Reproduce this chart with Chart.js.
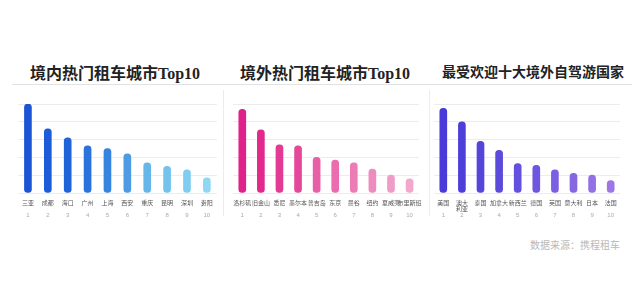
<!DOCTYPE html>
<html>
<head>
<meta charset="utf-8">
<script src="https://cdn.jsdelivr.net/npm/chart.js@4.4.0/dist/chart.umd.min.js"></script>
<style>
  body { margin: 0; background: #fff; width: 640px; height: 284px; position: relative; overflow: hidden; font-family: "Noto Sans CJK SC", sans-serif; }
  .titulo { position: absolute; top: 60px; font-size: 16px; font-weight: bold; color: #222; text-align: center; white-space: nowrap; font-family: "Liberation Serif", "Noto Sans CJK SC", serif; }
  .panel { position: absolute; top: 96px; height: 126px; }
  .linea-h { position: absolute; left: 12px; width: 620px; top: 84px; height: 1px; background: #e2e2e2; }
  .linea-v { position: absolute; top: 90px; height: 126px; width: 1px; background: #ececec; }
  .fuente { position: absolute; right: 20px; top: 237px; font-size: 10px; color: #b8b8b8; }
</style>
</head>
<body>
<div class="titulo" style="left:10px;width:210px">境内热门租车城市Top10</div>
<div class="titulo" style="left:220px;width:210px">境外热门租车城市Top10</div>
<div class="titulo" style="left:428px;width:210px;font-size:14px;top:61px">最受欢迎十大境外自驾游国家</div>
<div class="linea-h"></div>
<div class="linea-v" style="left:223px"></div>
<div class="linea-v" style="left:429px"></div>

<div class="panel" style="left:8px;width:212px"><canvas id="g1"></canvas></div>
<div class="panel" style="left:223px;width:206px"><canvas id="g2"></canvas></div>
<div class="panel" style="left:429px;width:200px"><canvas id="g3"></canvas></div>

<div class="fuente">数据来源：携程租车</div>

<script>
// Datos de cada gráfica
var ranking = ['1', '2', '3', '4', '5', '6', '7', '8', '9', '10'];

var ciudadesInternas = ['三亚', '成都', '海口', '广州', '上海', '西安', '重庆', '昆明', '深圳', '贵阳'];
var valoresInternos = [100, 72, 62, 53, 50, 44, 34, 30, 26, 17];

var ciudadesExternas = ['洛杉矶', '旧金山', '悉尼', '墨尔本', '普吉岛', '东京', '曼谷', '纽约', '夏威夷', '布里斯班'];
var valoresExternos = [94, 71, 54, 53, 40, 37, 34, 27, 20, 16];

var paises = [['美国'], ['澳大', '利亚'], ['泰国'], ['加拿大'], ['新西兰'], ['德国'], ['英国'], ['意大利'], ['日本'], ['法国']];
var valoresPaises = [95, 80, 58, 48, 33, 31, 26, 22, 20, 14];

// Colores (degradado por barra)
var coloresAzul = ['#1b55d5', '#1d5cd8', '#2062d8', '#2a72dc', '#3684df', '#4c9be3', '#66b6ea', '#74c3ed', '#80cdef', '#8fd7f2'];
var coloresRosa = ['#e0218a', '#e2288d', '#e33a95', '#e5479b', '#e85ea7', '#eb6daf', '#ed7bb6', '#ef8cbf', '#f19cc8', '#f2a8cd'];
var coloresMorado = ['#4a3bd8', '#4e3fda', '#5545da', '#5b4adc', '#6450de', '#6e56e0', '#7a5fe2', '#8667e2', '#9370e4', '#9e77e6'];

function crearGrafica(id, etiquetas, valores, colores, padIzq, padDer) {
    var ctx = document.getElementById(id).getContext('2d');
    return new Chart(ctx, {
        type: 'bar',
        data: {
            labels: etiquetas,
            datasets: [{
                data: valores,
                backgroundColor: colores,
                barThickness: 7,
                borderRadius: 4,
                borderSkipped: false,
                xAxisID: 'x'
            }]
        },
        options: {
            responsive: true,
            maintainAspectRatio: false,
            animation: false,
            layout: { padding: { left: padIzq, right: padDer, top: 8, bottom: 0 } },
            plugins: { legend: { display: false }, tooltip: { enabled: false } },
            scales: {
                x: {
                    position: 'bottom',
                    grid: { display: false, drawTicks: false },
                    border: { display: false },
                    ticks: { color: '#555', font: { size: 6, family: 'Noto Sans CJK SC', lineHeight: 1 }, padding: 7, maxRotation: 0, autoSkip: false },
                    afterFit: function (s) { s.height = 19; }
                },
                x2: {
                    position: 'bottom',
                    type: 'category',
                    labels: ranking,
                    grid: { display: false, drawTicks: false },
                    border: { display: false },
                    ticks: { color: '#aaa', font: { size: 6 }, padding: 0, maxRotation: 0, autoSkip: false },
                    afterFit: function (s) { s.height = 10; }
                },
                y: {
                    min: 0,
                    max: 100,
                    ticks: { display: false, stepSize: 20 },
                    grid: { color: '#ececec', drawTicks: false },
                    border: { display: false },
                    afterFit: function (s) { s.width = 0; }
                }
            }
        }
    });
}

crearGrafica('g1', ciudadesInternas, valoresInternos, coloresAzul, 10, 3);
crearGrafica('g2', ciudadesExternas, valoresExternos, coloresRosa, 10, 9);
crearGrafica('g3', paises, valoresPaises, coloresMorado, 5, 9);
</script>
</body>
</html>
